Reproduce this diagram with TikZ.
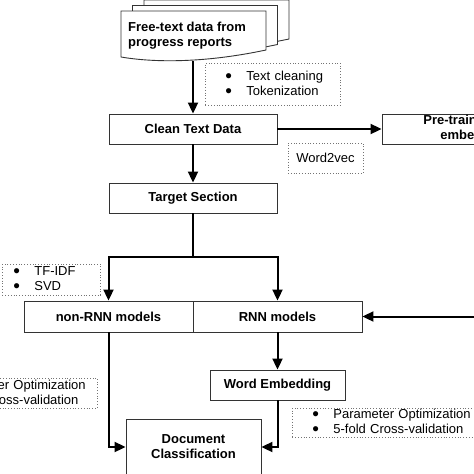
\documentclass[tikz,border=0pt]{standalone}
\usepackage{fontspec}
\setmainfont{Liberation Sans}
\usetikzlibrary{positioning, arrows.meta, calc}

\newcommand{\bitem}[2][16pt]{\hspace*{#1}\makebox[21pt][l]{\raisebox{-1.6pt}{\fontsize{19}{15}\selectfont\textbullet}}#2}

\begin{document}
\begin{tikzpicture}[x=1pt, y=-1pt,
	every node/.style={font=\fontsize{13}{15}\selectfont},
	box/.style={draw=black!80, line width=0.9pt, fill=white, align=center, inner sep=0pt, font=\fontsize{13}{15}\selectfont\bfseries},
	note/.style={draw=black!55, dotted, line width=0.8pt, align=left, inner ysep=0pt, inner xsep=4pt},
	flow/.style={line width=2pt, -{Triangle[length=11pt, width=10pt]}},
	link/.style={line width=2pt}]
	
	%//page frame
	\useasboundingbox (0,0) rectangle (474,474);
	\clip (0,0) rectangle (474,474);
	
	%//stack of reports
	\foreach \i in {2,1}
	{
	\begin{scope}[shift={(11.5*\i,-5.5*\i)}]
	\draw[draw=black!80, line width=0.9pt, fill=white] (121,11) -- (266,11) -- (266,50) .. controls (200,64) and (150,62) .. (121,57) -- cycle;
	\end{scope}
	}
	\draw[draw=black!80, line width=0.9pt, fill=white] (121,11) -- (266,11) -- (266,50) .. controls (200,64) and (150,62) .. (121,57) -- cycle;
	\node[align=left, anchor=west, inner sep=0pt, font=\fontsize{13}{15}\selectfont\bfseries] (src) at (128,36) {Free-text data from\\progress reports};
	\coordinate (srcbot) at (193,61);
	
	%//boxes
	\node[box, minimum width=168pt, minimum height=30pt] (clean) at (193,129) {Clean Text Data};
	\node[box, minimum width=186pt, minimum height=30pt] (pre) at (475,129) {Pre-trained word\\embedding};
	\node[box, minimum width=168pt, minimum height=30pt] (target) at (193,198) {Target Section};
	\node[box, minimum width=169pt, minimum height=31pt] (nonrnn) at (108.5,316.5) {non-RNN models};
	\node[box, minimum width=169pt, minimum height=31pt] (rnn) at (277.5,316.5) {RNN models};
	\node[box, minimum width=135pt, minimum height=30pt] (emb) at (277.5,385) {Word Embedding};
	\node[box, minimum width=135pt, minimum height=56pt] (cls) at (193.5,447) {Document\\Classification};
	
	%//notes
	\node[note, text width=127pt, minimum height=42pt, anchor=west] (prep) at (205,84) {\bitem{Text cleaning}\\\bitem{Tokenization}};
	\node[note, minimum width=75pt, minimum height=30pt, inner xsep=0pt] (w2v) at (325.5,158) {Word2vec};
	\node[note, text width=90pt, minimum height=31pt, anchor=west] (feat) at (2,279.5) {\bitem[7pt]{TF-IDF}\\\bitem[7pt]{SVD}};
	\node[note, text width=182pt, minimum height=30pt, anchor=west] (tunea) at (-93,393) {\bitem{Parameter Optimization}\\\bitem{5-fold Cross-validation}};
	\node[note, text width=182pt, minimum height=29pt, anchor=west] (tuneb) at (292,422.5) {\bitem{Parameter Optimization}\\\bitem{5-fold Cross-validation}};
	
	%//connectors
	\coordinate (split) at (193,257);
	\coordinate (ext) at (490,316.5);
	\draw[flow] (srcbot) -- (clean.north);
	\draw[flow] (clean) -- (pre);
	\draw[flow] (clean) -- (target);
	\draw[link] (target.south) -- (split);
	\draw[flow] (split) -| (nonrnn.north);
	\draw[flow] (split) -| (rnn.north);
	\draw[flow] (ext) -- (rnn.east);
	\draw[flow] (rnn) -- (emb);
	\draw[flow] (nonrnn.south) |- (cls.west);
	\draw[flow] (emb.south) |- (cls.east);
	
\end{tikzpicture}
\end{document}
